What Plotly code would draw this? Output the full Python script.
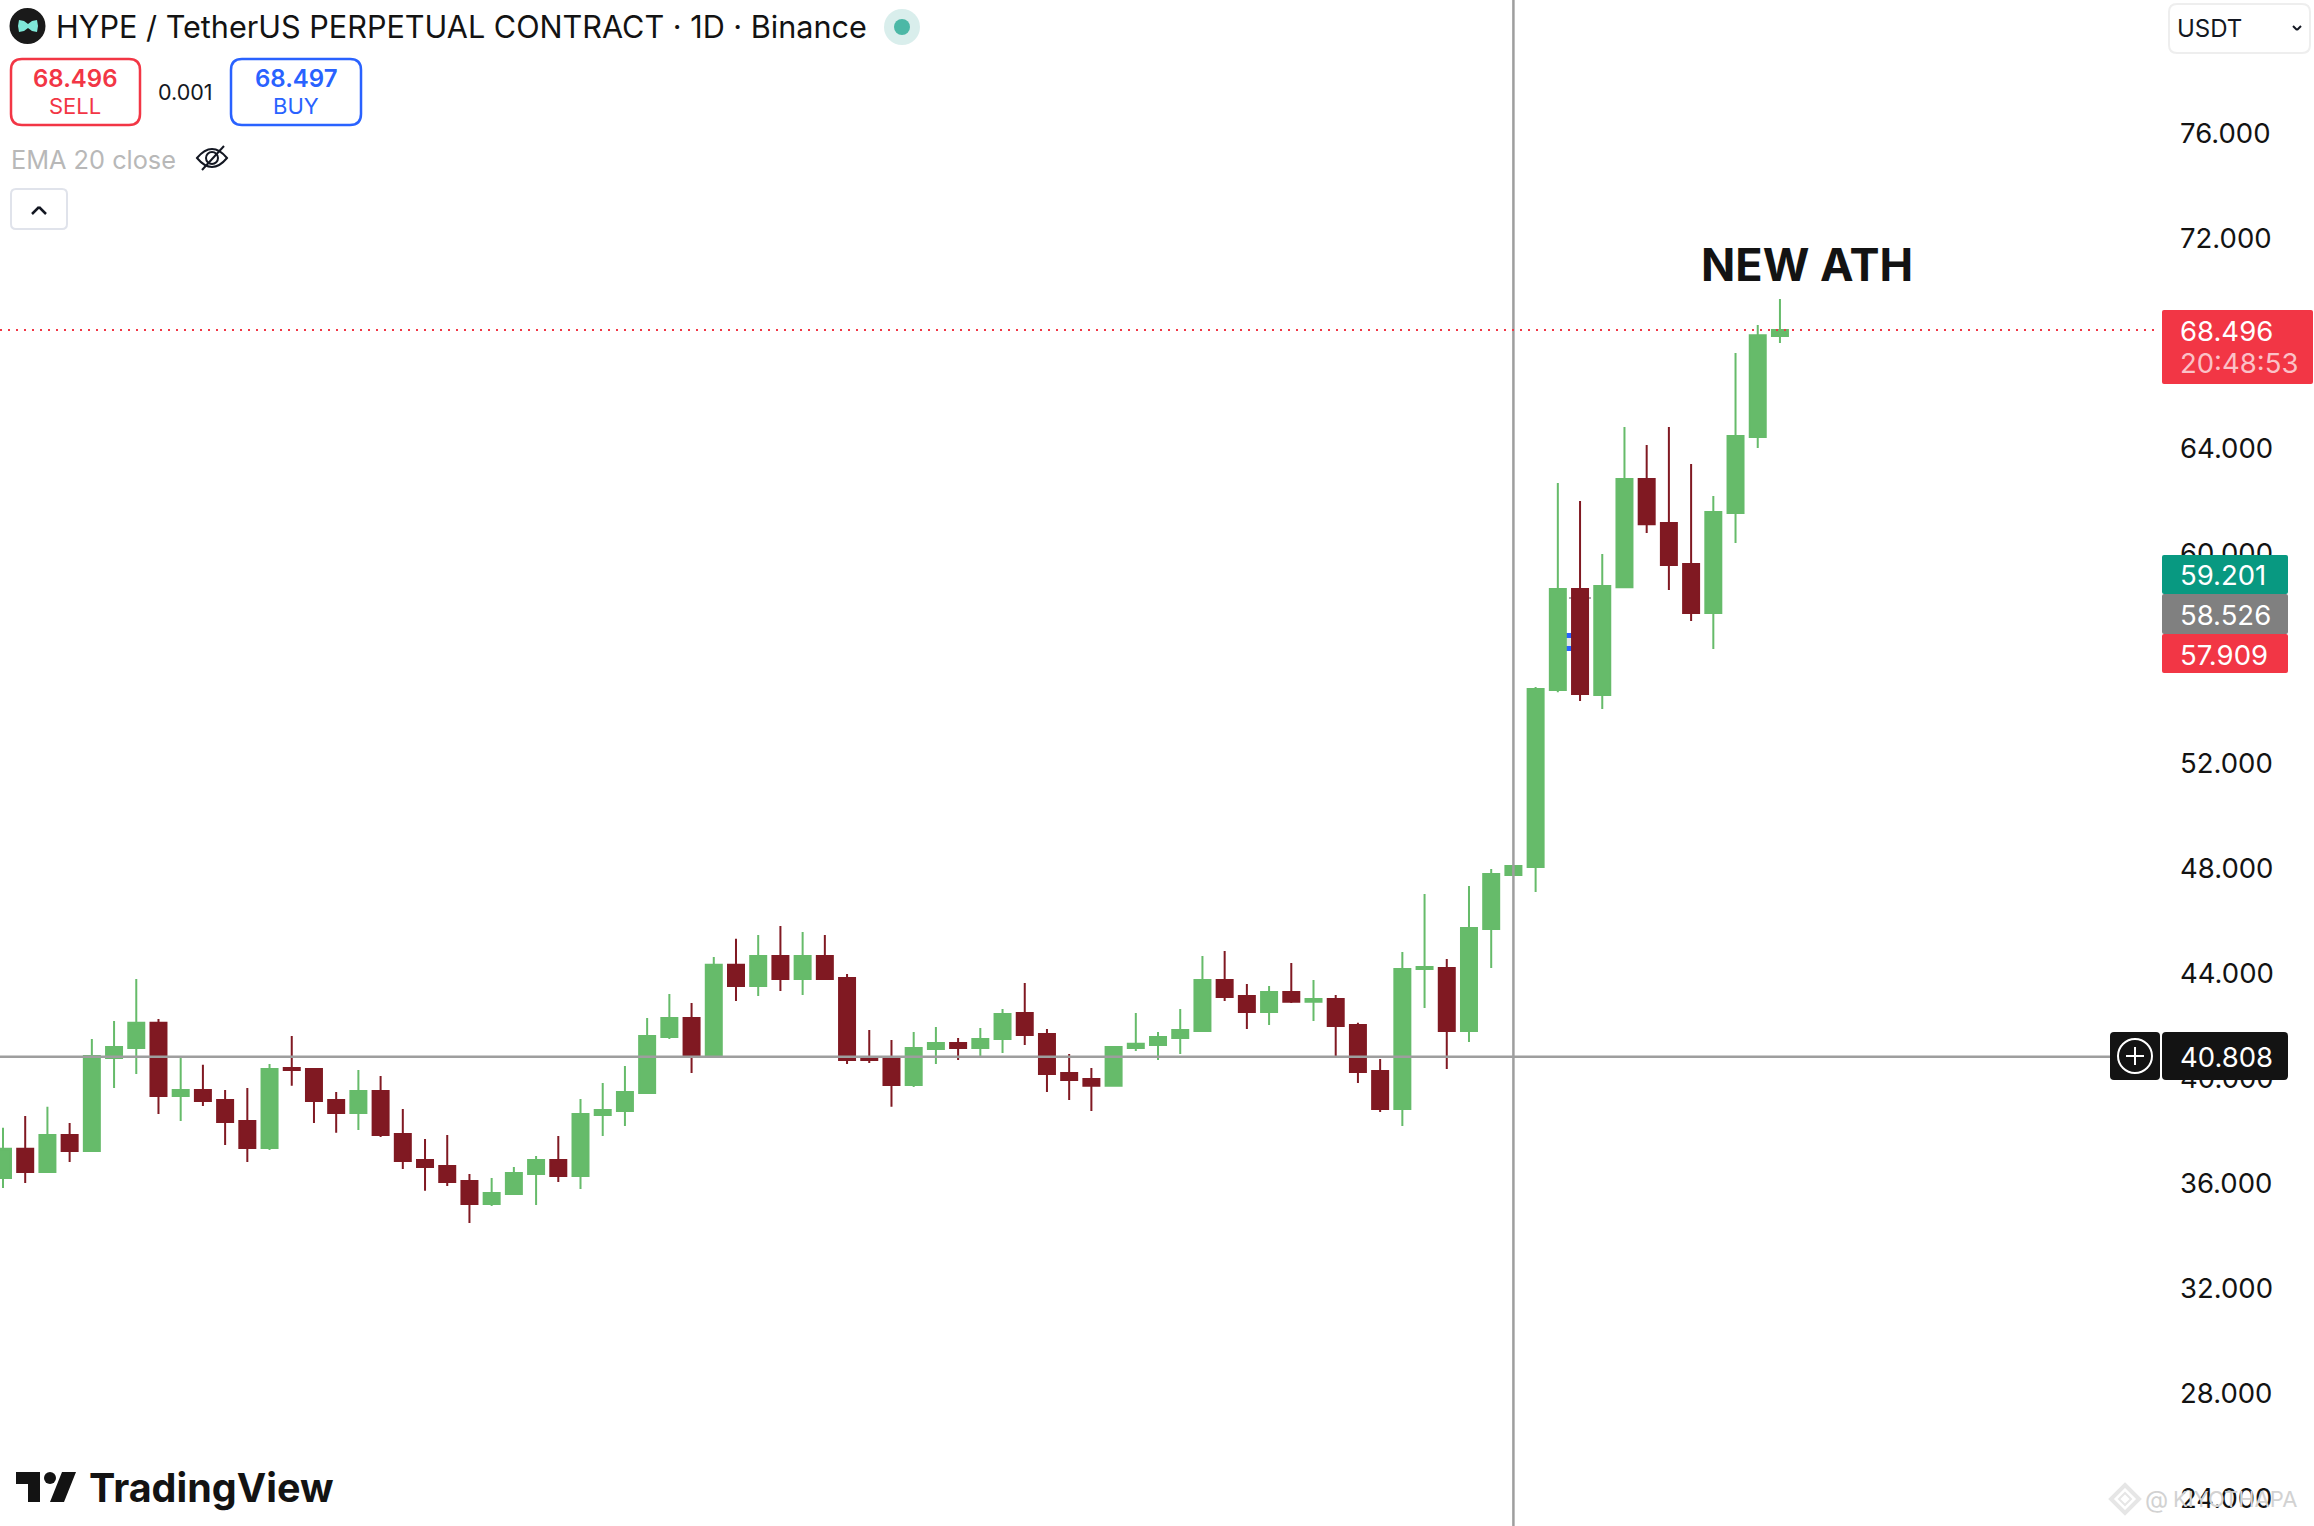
# HYPE/USDT daily candles, TradingView style
import plotly.graph_objects as go

# OHLC
opens = [36.19, 37.30, 36.42, 37.83, 37.22, 40.76, 41.14, 42.10, 39.31, 39.54,
         39.16, 38.36, 37.33, 40.38, 40.34, 39.16, 38.67, 39.50, 37.87, 36.88,
         36.65, 36.08, 35.20, 35.58, 36.34, 36.88, 36.27, 38.59, 38.74, 39.43,
         41.56, 42.29, 40.84, 44.31, 43.50, 44.65, 43.77, 44.65, 43.81, 40.76,
         40.72, 39.73, 41.10, 41.33, 41.14, 41.49, 42.48, 41.68, 40.19, 39.96,
         39.70, 41.14, 41.26, 41.52, 41.79, 43.73, 43.12, 42.51, 43.28, 42.90,
         43.01, 42.02, 40.27, 38.82, 44.15, 44.19, 41.79, 45.68, 47.73, 48.04,
         54.78, 58.63, 54.59, 58.70, 62.82, 61.14, 59.58, 57.71, 61.52, 64.42,
         68.27]
highs = [38.10, 38.55, 38.90, 38.29, 41.49, 42.17, 43.77, 42.25, 40.84, 40.50,
         39.54, 39.62, 40.53, 41.60, 40.38, 39.47, 40.30, 40.08, 38.82, 37.68,
         37.83, 36.34, 36.19, 36.61, 37.03, 37.79, 39.20, 39.81, 40.46, 42.29,
         43.20, 42.86, 44.61, 45.30, 45.45, 45.79, 45.56, 45.45, 43.96, 41.83,
         41.45, 41.75, 41.94, 41.52, 41.90, 42.63, 43.62, 41.87, 40.91, 40.38,
         41.22, 42.48, 41.75, 42.63, 44.65, 44.84, 43.58, 43.50, 44.38, 43.73,
         43.16, 42.10, 40.72, 44.80, 47.01, 44.53, 47.31, 47.96, 48.08, 54.90,
         62.67, 61.98, 59.96, 64.80, 64.11, 64.80, 63.39, 62.17, 67.62, 68.69,
         69.68]
lows = [35.81, 36.00, 36.38, 36.80, 37.22, 39.62, 40.15, 38.63, 38.36, 38.93,
        37.45, 36.80, 37.26, 39.70, 38.29, 37.91, 38.02, 37.75, 36.53, 35.70,
        35.89, 34.48, 35.12, 35.54, 35.16, 36.04, 35.77, 37.79, 38.17, 39.43,
        41.49, 40.19, 40.84, 42.93, 43.12, 43.31, 43.16, 43.73, 40.53, 40.57,
        38.90, 39.66, 40.53, 40.69, 40.84, 40.95, 41.26, 39.47, 39.16, 38.74,
        39.70, 41.03, 40.69, 40.91, 41.79, 42.93, 41.87, 42.02, 42.86, 42.17,
        40.84, 39.81, 38.70, 38.17, 42.67, 40.34, 41.37, 44.19, 47.73, 47.09,
        54.70, 54.36, 54.06, 58.67, 60.76, 58.59, 57.41, 56.34, 60.38, 64.00,
        68.00]
closes = [37.30, 36.42, 37.83, 37.22, 40.84, 41.18, 42.10, 39.31, 39.54, 39.12,
          38.32, 37.33, 40.34, 40.30, 39.12, 38.67, 39.50, 37.83, 36.84, 36.61,
          36.04, 35.20, 35.62, 36.38, 36.88, 36.27, 38.63, 38.78, 39.47, 41.60,
          42.29, 40.84, 44.31, 43.50, 44.65, 43.77, 44.65, 43.77, 40.69, 40.69,
          39.73, 41.14, 41.33, 41.14, 41.49, 42.44, 41.64, 40.15, 39.92, 39.70,
          41.18, 41.30, 41.56, 41.83, 43.73, 43.09, 42.51, 43.28, 42.90, 43.01,
          41.98, 40.23, 38.82, 44.15, 44.23, 41.79, 45.71, 47.77, 48.08, 54.82,
          58.63, 54.63, 58.74, 62.82, 61.10, 59.54, 57.71, 61.56, 64.46, 68.30,
          68.496]
days = list(range(len(opens)))

shown_ticks = [76, 72, 64, 60, 52, 48, 44, 40, 36, 32, 28, 24]
last_price = 68.496
crosshair_price = 40.808
crosshair_day = 68

GREEN = '#66bb6a'
DARK_RED = '#801922'
RED = '#f23645'
BLUE = '#2962ff'
INK = '#131722'
FONT = 'Inter'

W, H = 2314, 1526
PLOT_W = 2160


def px(x):
    return x / PLOT_W


def py(y):
    return 1 - y / H


def round_rect(x0, y0, x1, y1, r):
    return (f'M{px(x0 + r)},{py(y0)} L{px(x1 - r)},{py(y0)} Q{px(x1)},{py(y0)} {px(x1)},{py(y0 + r)} '
            f'L{px(x1)},{py(y1 - r)} Q{px(x1)},{py(y1)} {px(x1 - r)},{py(y1)} '
            f'L{px(x0 + r)},{py(y1)} Q{px(x0)},{py(y1)} {px(x0)},{py(y1 - r)} '
            f'L{px(x0)},{py(y0 + r)} Q{px(x0)},{py(y0)} {px(x0 + r)},{py(y0)} Z')


def poly(points):
    return 'M' + ' L'.join(f'{px(x)},{py(y)}' for x, y in points) + ' Z'


def box(x0, y0, x1, y1, r=0, fill=None, line=None, width=2, opacity=1, layer='above'):
    return dict(type='path', xref='paper', yref='paper', path=round_rect(x0, y0, x1, y1, r),
                fillcolor=fill or 'rgba(0,0,0,0)', opacity=opacity, layer=layer,
                line=dict(color=line or 'rgba(0,0,0,0)', width=width if line else 0))


def circle(cx, cy, r, fill=None, line=None, width=2):
    return dict(type='circle', xref='paper', yref='paper', x0=px(cx - r), x1=px(cx + r),
                y0=py(cy + r), y1=py(cy - r), fillcolor=fill or 'rgba(0,0,0,0)',
                line=dict(color=line or 'rgba(0,0,0,0)', width=width if line else 0), layer='above')


def seg(x0, y0, x1, y1, color, width=2, layer='above'):
    return dict(type='line', xref='paper', yref='paper', x0=px(x0), x1=px(x1), y0=py(y0), y1=py(y1),
                line=dict(color=color, width=width), layer=layer)


def label(x, y, text, size, color, anchor='left', family=FONT, opacity=1, weight=None):
    font = dict(family=family, size=size, color=color)
    if weight:
        font['weight'] = weight
    return dict(xref='paper', yref='paper', x=px(x), y=py(y), text=text, showarrow=False,
                xanchor=anchor, yanchor='middle', opacity=opacity, borderpad=0, font=font)


fig = go.Figure(go.Candlestick(
    x=days, open=opens, high=highs, low=lows, close=closes,
    increasing=dict(line=dict(color=GREEN, width=2), fillcolor=GREEN),
    decreasing=dict(line=dict(color=DARK_RED, width=2), fillcolor=DARK_RED),
    whiskerwidth=0, showlegend=False,
))

shapes = [
    # bits of another drawing hidden behind the candles
    box(1566, 633, 1572, 651, fill=BLUE, layer='below'),
    box(1566, 638, 1572, 646, fill='#dfe8e4', layer='below'),
    seg(1569, 598, 1591, 598, '#aaaaaa', 2, layer='below'),
    # crosshair and last price line
    dict(type='line', xref='x', yref='paper', x0=crosshair_day, x1=crosshair_day, y0=0, y1=1,
         line=dict(color='#9e9e9e', width=2.5), layer='above'),
    dict(type='line', xref='paper', yref='y', x0=0, x1=px(2110), y0=crosshair_price, y1=crosshair_price,
         line=dict(color='#9e9e9e', width=2.5), layer='above'),
    dict(type='line', xref='paper', yref='y', x0=0, x1=1, y0=last_price, y1=last_price,
         line=dict(color=RED, width=2, dash='2px,6px'), layer='above'),
    # price tags
    box(2162, 310, 2313, 384, 2, fill=RED),
    box(2162, 555, 2288, 594, 2, fill='#089981'),
    box(2162, 594, 2288, 634, 2, fill='#808080'),
    box(2162, 634, 2288, 673, 2, fill=RED),
    box(2110, 1032, 2160, 1080, 4, fill='#131313'),
    box(2162, 1032, 2288, 1080, 4, fill='#131313'),
    circle(2135, 1056, 17, line='#ffffff', width=2),
    seg(2126, 1056, 2144, 1056, '#ffffff', 2),
    seg(2135, 1047, 2135, 1065, '#ffffff', 2),
    # header
    circle(27.5, 26, 18, fill='#1a1a1a'),
    dict(type='path', xref='paper', yref='paper', fillcolor='#7fe8d8', layer='above', line=dict(width=0),
         path=poly([(19, 20), (24, 21), (28, 24), (32, 21), (37, 20), (38, 26), (37, 32),
                    (32, 31), (28, 28), (24, 31), (19, 32), (18, 26)])),
    circle(902, 27, 18, fill='#d9eeec'),
    circle(902, 27, 8, fill='#4cb8a6'),
    box(11, 59, 140, 125, 11, fill='#ffffff', line=RED, width=2.5),
    box(231, 59, 361, 125, 11, fill='#ffffff', line=BLUE, width=2.5),
    box(11, 189, 67, 229, 5, fill='#ffffff', line='#e0e3eb', width=2),
    seg(32, 214, 39, 207, INK, 2.5),
    seg(39, 207, 46, 214, INK, 2.5),
    # hidden eye icon
    dict(type='path', xref='paper', yref='paper', layer='above', line=dict(color=INK, width=2),
         path=(f'M{px(197)},{py(158)} Q{px(212)},{py(140)} {px(227)},{py(158)} '
               f'Q{px(212)},{py(176)} {px(197)},{py(158)} Z')),
    circle(212, 158, 6, line=INK, width=2),
    seg(202, 170, 224, 146, INK, 2),
    # currency dropdown
    box(2169, 4, 2310, 53, 8, fill='#ffffff', line='#eeeeee', width=2),
    seg(2293, 26, 2297, 30, INK, 2),
    seg(2297, 30, 2301, 26, INK, 2),
    # TradingView logo
    dict(type='path', xref='paper', yref='paper', fillcolor='#131313', layer='above', line=dict(width=0),
         path=poly([(16, 1472), (40, 1472), (40, 1502), (28, 1502), (28, 1484), (16, 1484)])),
    circle(50, 1478, 6, fill='#131313'),
    dict(type='path', xref='paper', yref='paper', fillcolor='#131313', layer='above', line=dict(width=0),
         path=poly([(62, 1472), (76, 1472), (64, 1502), (50, 1502)])),
    # watermark diamond
    dict(type='path', xref='paper', yref='paper', layer='above', fillcolor='rgba(0,0,0,0)',
         line=dict(color='#e6e6e6', width=4),
         path=poly([(2125, 1485), (2139, 1499), (2125, 1513), (2111, 1499)])),
    dict(type='path', xref='paper', yref='paper', layer='above', fillcolor='rgba(0,0,0,0)',
         line=dict(color='#e6e6e6', width=2),
         path=poly([(2125, 1493), (2131, 1499), (2125, 1505), (2119, 1499)])),
]

annotations = [
    label(55, 27, 'HYPE / TetherUS PERPETUAL CONTRACT · 1D · Binance', 30.6, '#131313'),
    label(75, 78, '68.496', 24, RED, 'center', weight=600),
    label(75, 106, 'SELL', 22, RED, 'center'),
    label(185, 92, '0.001', 21.5, INK, 'center'),
    label(296, 78, '68.497', 24, BLUE, 'center', weight=600),
    label(296, 106, 'BUY', 22, BLUE, 'center'),
    label(10, 159, 'EMA 20 close', 25.3, '#b8b8b8'),
    label(2176, 28, 'USDT', 24, INK),
    label(1807, 264, '<b>NEW ATH</b>', 45, '#131313', 'center'),
    label(2179, 331, '68.496', 27.5, '#ffffff'),
    label(2179, 363, '20:48:53', 27.5, '#fbc1c7'),
    label(2179, 575, '59.201', 27.5, '#ffffff'),
    label(2179, 615, '58.526', 27.5, '#ffffff'),
    label(2179, 655, '57.909', 27.5, '#ffffff'),
    label(2179, 1057, '40.808', 27.5, '#ffffff'),
    label(88, 1488, '<b>TradingView</b>', 39.5, '#131313'),
    label(2144, 1499, '@', 24, '#d2d2d2'),
    label(2172, 1499, 'KIYOTHAPA', 22, '#d2d2d2'),
]

fig.update_layout(
    width=W, height=H,
    margin=dict(l=0, r=W - PLOT_W, t=0, b=0, pad=0),
    paper_bgcolor='#ffffff', plot_bgcolor='#ffffff',
    boxgap=0.28, boxgroupgap=0,
    hovermode=False,
    showlegend=False,
    shapes=shapes,
    annotations=annotations,
    font=dict(family=FONT, color='#131313'),
)
fig.update_xaxes(range=[-0.135, 97.11], visible=False, rangeslider_visible=False, showgrid=False)
fig.update_yaxes(
    range=[22.933, 81.067], side='right', showgrid=False, zeroline=False, showline=False,
    tickmode='array', tickvals=shown_ticks, ticktext=[f'{t}.000' for t in shown_ticks],
    ticks='', ticklabelstandoff=19, tickfont=dict(family=FONT, size=27.5, color='#131313'),
)

fig.write_html('out.html', config=dict(displayModeBar=False),
               post_script="document.body.style.margin='0';document.body.style.overflow='hidden';")
